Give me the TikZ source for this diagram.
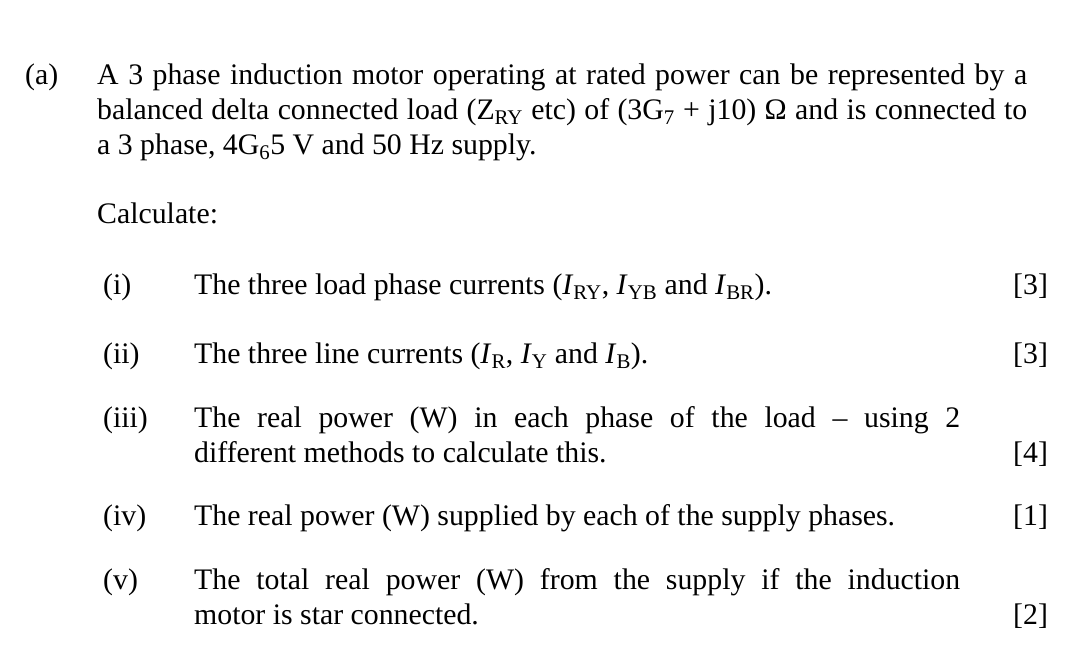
\documentclass[tikz,border=0pt]{standalone}
\usepackage{fontspec}
\setmainfont{Liberation Serif}
\newcommand{\sbs}[1]{\textsubscript{#1}}
\begin{document}
\begin{tikzpicture}[x=1pt,y=-1pt,
  txt/.style={anchor=base west,inner sep=0pt,font=\fontsize{29.8}{33}\selectfont}]
\path[use as bounding box] (0,0) rectangle (1080,670);
\node[txt] (a) at (25,84) {(a)};
\node[txt] (l1) at (97,84) {\makebox[930pt][s]{A 3 phase induction motor operating at rated power can be represented by a}};
\node[txt] (l2) at (97,119) {\makebox[930pt][s]{balanced delta connected load (Z\sbs{RY} etc) of (3G\sbs{7} + j10) Ω and is connected to}};
\node[txt] (l3) at (97,154) {a 3 phase, 4G\sbs{6}5 V and 50 Hz supply.};
\node[txt] (calc) at (97,223) {Calculate:};
\node[txt] (i) at (103,294) {(i)};
\node[txt] (it) at (194,294) {The three load phase currents (\textit{I}\sbs{RY}, \textit{I}\sbs{YB} and \textit{I}\sbs{BR}).};
\node[txt] (im) at (1013,294) {[3]};
\node[txt] (ii) at (103,363) {(ii)};
\node[txt] (iit) at (194,363) {The three line currents (\textit{I}\sbs{R}, \textit{I}\sbs{Y} and \textit{I}\sbs{B}).};
\node[txt] (iim) at (1013,363) {[3]};
\node[txt] (iii) at (103,427) {(iii)};
\node[txt] (iiit) at (194,427) {\makebox[766pt][s]{The real power (W) in each phase of the load -- using 2}};
\node[txt] (iiit2) at (194,462) {different methods to calculate this.};
\node[txt] (iiim) at (1013,462) {[4]};
\node[txt] (iv) at (103,525) {(iv)};
\node[txt] (ivt) at (194,525) {The real power (W) supplied by each of the supply phases.};
\node[txt] (ivm) at (1013,525) {[1]};
\node[txt] (v) at (103,589) {(v)};
\node[txt] (vt) at (194,589) {\makebox[766pt][s]{The total real power (W) from the supply if the induction}};
\node[txt] (vt2) at (194,624) {motor is star connected.};
\node[txt] (vm) at (1013,624) {[2]};
\end{tikzpicture}
\end{document}
